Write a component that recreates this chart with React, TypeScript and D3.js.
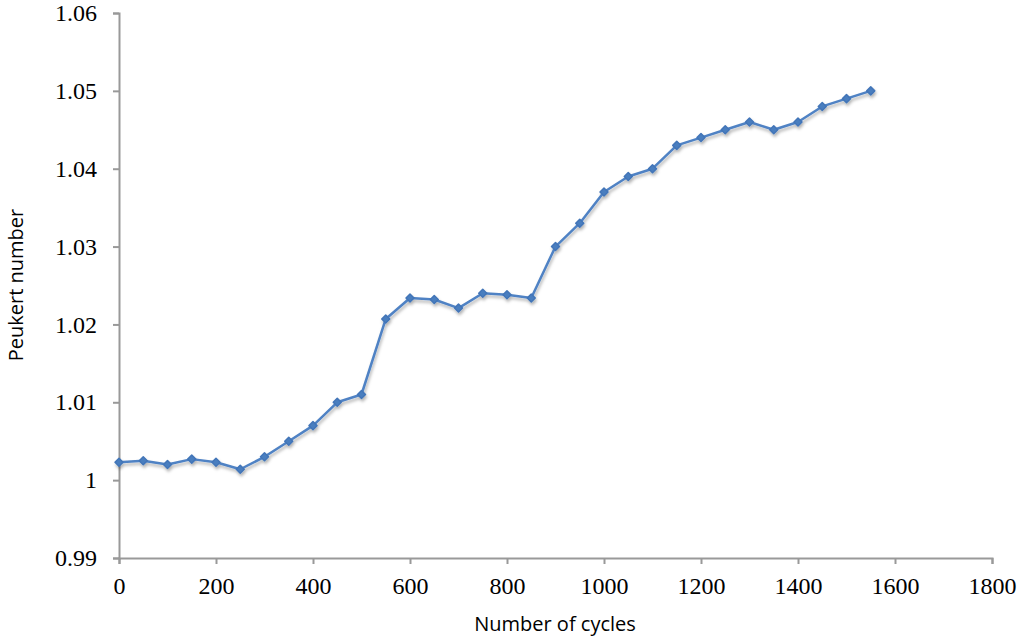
import * as d3 from "d3";
import { useRef, useEffect } from "react";

const cycles = [
  0, 50, 100, 150, 200, 250, 300, 350, 400, 450, 500, 550, 600, 650, 700, 750,
  800, 850, 900, 950, 1000, 1050, 1100, 1150, 1200, 1250, 1300, 1350, 1400,
  1450, 1500, 1550,
];
const peukert = [
  1.0023, 1.0025, 1.002, 1.0027, 1.0023, 1.0014, 1.003, 1.005, 1.007, 1.01,
  1.011, 1.0207, 1.0234, 1.0232, 1.0221, 1.024, 1.0238, 1.0234, 1.03, 1.033,
  1.037, 1.039, 1.04, 1.043, 1.044, 1.045, 1.046, 1.045, 1.046, 1.048, 1.049,
  1.05,
];
const xTicks = [0, 200, 400, 600, 800, 1000, 1200, 1400, 1600, 1800];
const yTicks = [0.99, 1, 1.01, 1.02, 1.03, 1.04, 1.05, 1.06];

export default function App() {
  const width = 1024;
  const height = 643;
  const marginTop = 13;
  const marginRight = 32;
  const marginBottom = 85;
  const marginLeft = 119;

  const gx = useRef<SVGGElement>(null);
  const gy = useRef<SVGGElement>(null);

  const x = d3
    .scaleLinear()
    .domain([0, 1800])
    .range([marginLeft, width - marginRight]);

  const y = d3
    .scaleLinear()
    .domain([0.99, 1.06])
    .range([height - marginBottom, marginTop]);

  const points: [number, number][] = cycles.map((c, i) => [c, peukert[i]]);

  const line = d3
    .line<[number, number]>()
    .x((d) => x(d[0]))
    .y((d) => y(d[1]));

  // rotated square = even diamond like the Excel marker
  const marker = d3.symbol().type(d3.symbolSquare).size(32)();

  useEffect(() => {
    const tickFont = "'Liberation Serif', serif";
    if (gx.current) {
      const g = d3.select(gx.current);
      g.call(
        d3
          .axisBottom(x)
          .tickValues(xTicks)
          .tickSize(6)
          .tickPadding(13)
          .tickFormat(d3.format("d"))
      );
      g.selectAll("path, line").attr("stroke", "#999").attr("stroke-width", 2);
      g.selectAll("text")
        .attr("font-family", tickFont)
        .attr("font-size", 24)
        .attr("fill", "#000");
    }
    if (gy.current) {
      const g = d3.select(gy.current);
      g.call(
        d3
          .axisLeft(y)
          .tickValues(yTicks)
          .tickSize(6)
          .tickPadding(16)
          .tickFormat((d) => d3.format("")(+(+d).toFixed(2)))
      );
      g.selectAll("path, line").attr("stroke", "#999").attr("stroke-width", 2);
      g.selectAll("text")
        .attr("font-family", tickFont)
        .attr("font-size", 24)
        .attr("fill", "#000");
    }
  }, [x, y]);

  return (
    <div style={{ position: "absolute", left: 0, top: 0 }}>
      <svg width={width} height={height} style={{ display: "block", background: "#fff" }}>
        <defs>
          <filter id="shadow" x="-20%" y="-20%" width="140%" height="140%">
            <feDropShadow dx="1" dy="2.5" stdDeviation="1.5" floodColor="#000" floodOpacity="0.3" />
          </filter>
        </defs>
        <g ref={gx} transform={`translate(0,${height - marginBottom})`} />
        <g ref={gy} transform={`translate(${marginLeft},0)`} />
        <g filter="url(#shadow)">
          <path
            d={line(points) ?? ""}
            fill="none"
            stroke="#4f82c4"
            strokeWidth={2.5}
            strokeLinejoin="round"
          />
          {points.map((d, i) => (
            <path
              key={i}
              d={marker ?? ""}
              transform={`translate(${x(d[0])},${y(d[1])}) rotate(45)`}
              fill="#4a7ebf"
              stroke="#4275b8"
              strokeWidth={1.5}
              strokeLinejoin="round"
            />
          ))}
        </g>
        <text
          x={555}
          y={631}
          textAnchor="middle"
          fontFamily="'Open Sans', sans-serif"
          fontSize={20}
          fill="#000"
        >
          Number of cycles
        </text>
        <text
          transform={`translate(23,285) rotate(-90)`}
          textAnchor="middle"
          fontFamily="'Open Sans', sans-serif"
          fontSize={20}
          fill="#000"
        >
          Peukert number
        </text>
      </svg>
    </div>
  );
}
